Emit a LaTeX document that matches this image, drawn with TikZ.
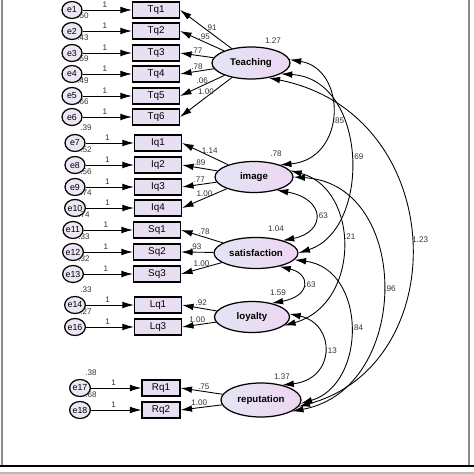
\documentclass[tikz,border=0pt]{standalone}
\usepackage{fontspec}
\setmainfont{Liberation Sans}
\usetikzlibrary{arrows.meta, positioning, shapes.geometric}

\definecolor{boxfill}{RGB}{232,224,242}
\definecolor{errfill}{RGB}{236,230,245}
\definecolor{latleft}{RGB}{226,229,244}
\definecolor{latright}{RGB}{238,214,242}
\definecolor{framegray}{RGB}{140,140,140}

\begin{document}
\begin{tikzpicture}[
    x=0.02cm, y=0.02cm,
    ind/.style={rectangle, draw, fill=boxfill, line width=0.7pt, minimum width=0.94cm, minimum height=0.32cm, inner sep=0pt, font=\fontsize{5.6}{6}\selectfont},
    err/.style={ellipse, draw, fill=errfill, line width=0.7pt, minimum width=0.4cm, minimum height=0.34cm, inner sep=0pt, font=\fontsize{5}{6}\selectfont},
    latent/.style={ellipse, draw, left color=latleft, right color=latright, line width=0.7pt, minimum width=1.56cm, minimum height=0.64cm, inner sep=0pt, font=\bfseries\fontsize{5.5}{6}\selectfont},
    lbl/.style={font=\fontsize{4.6}{5}\selectfont, text=black!80, inner sep=1pt},
    arrow/.style={-{Latex[length=6.5pt, width=3.8pt]}, line width=0.5pt},
    cov/.style={{Latex[length=6.5pt, width=3.8pt]}-{Latex[length=6.5pt, width=3.8pt]}, line width=0.5pt},
]
    \useasboundingbox (0,0) rectangle (474,474);

    % Frame
    \draw[framegray, line width=1.2pt] (2,474) -- (2,8);
    \draw[framegray, line width=1.2pt] (469,474) -- (469,8);
    \draw[black, line width=1.4pt] (0,8) -- (474,8);
    \draw[framegray!60, line width=0.8pt] (0,1) -- (474,1);

    % Latent variables
    \node[latent] (teach) at (251,411) {Teaching};
    \node[latent, minimum height=0.62cm] (image) at (254,297) {image};
    \node[latent, minimum width=1.68cm, minimum height=0.62cm] (satis) at (256,221) {satisfaction};
    \node[latent, minimum width=1.5cm, minimum height=0.62cm] (loyal) at (252,157) {loyalty};
    \node[latent, minimum width=1.6cm, minimum height=0.68cm] (reput) at (261,74) {reputation};

    % Indicators
    \node[ind] (Tq1) at (156,464) {Tq1};
    \node[ind] (Tq2) at (156,443) {Tq2};
    \node[ind] (Tq3) at (156,421) {Tq3};
    \node[ind] (Tq4) at (156,400) {Tq4};
    \node[ind] (Tq5) at (156,378) {Tq5};
    \node[ind] (Tq6) at (156,357) {Tq6};
    \node[ind] (Iq1) at (158,331) {Iq1};
    \node[ind] (Iq2) at (158,309) {Iq2};
    \node[ind] (Iq3) at (158,287) {Iq3};
    \node[ind] (Iq4) at (158,266) {Iq4};
    \node[ind] (Sq1) at (157,244) {Sq1};
    \node[ind] (Sq2) at (157,222) {Sq2};
    \node[ind] (Sq3) at (157,200) {Sq3};
    \node[ind] (Lq1) at (158,169) {Lq1};
    \node[ind] (Lq3) at (158,147) {Lq3};
    \node[ind, minimum width=0.76cm] (Rq1) at (161,86) {Rq1};
    \node[ind, minimum width=0.76cm] (Rq2) at (161,64) {Rq2};

    % Error terms
    \node[err] (e1) at (72,464) {e1};
    \node[err] (e2) at (72,443) {e2};
    \node[err] (e3) at (72,421) {e3};
    \node[err] (e4) at (72,400) {e4};
    \node[err] (e5) at (72,378) {e5};
    \node[err] (e6) at (72,357) {e6};
    \node[err] (e7) at (75,331) {e7};
    \node[err] (e8) at (75,309) {e8};
    \node[err] (e9) at (75,287) {e9};
    \node[err] (e10) at (75,266) {e10};
    \node[err] (e11) at (73,244) {e11};
    \node[err] (e12) at (73,222) {e12};
    \node[err] (e13) at (73,200) {e13};
    \node[err] (e14) at (75,169) {e14};
    \node[err] (e16) at (75,147) {e16};
    \node[err] (e17) at (80,86) {e17};
    \node[err] (e18) at (80,64) {e18};

    % Error variances
    \node[lbl] at ([shift={(11,15)}]e2.center) {.50};
    \node[lbl] at ([shift={(11,15)}]e3.center) {.43};
    \node[lbl] at ([shift={(11,15)}]e4.center) {.59};
    \node[lbl] at ([shift={(11,15)}]e5.center) {.49};
    \node[lbl] at ([shift={(11,15)}]e6.center) {.66};
    \node[lbl] at ([shift={(11,15)}]e7.center) {.39};
    \node[lbl] at ([shift={(11,15)}]e8.center) {.52};
    \node[lbl] at ([shift={(11,15)}]e9.center) {.56};
    \node[lbl] at ([shift={(11,15)}]e10.center) {.74};
    \node[lbl] at ([shift={(11,15)}]e11.center) {.74};
    \node[lbl] at ([shift={(11,15)}]e12.center) {.33};
    \node[lbl] at ([shift={(11,15)}]e13.center) {.32};
    \node[lbl] at ([shift={(11,15)}]e14.center) {.33};
    \node[lbl] at ([shift={(11,15)}]e16.center) {.27};
    \node[lbl] at ([shift={(11,15)}]e17.center) {.38};
    \node[lbl] at ([shift={(11,15)}]e18.center) {.68};

    % Latent variances
    \node[lbl] at ([shift={(22,22)}]teach.center) {1.27};
    \node[lbl] at ([shift={(22,23)}]image.center) {.78};
    \node[lbl] at ([shift={(20,24)}]satis.center) {1.04};
    \node[lbl] at ([shift={(26,24)}]loyal.center) {1.59};
    \node[lbl] at ([shift={(21,23)}]reput.center) {1.37};

    % Error arrows
    \draw[arrow] (e1) -- node[lbl, above, pos=0.45] {1} (Tq1);
    \draw[arrow] (e2) -- node[lbl, above, pos=0.45] {1} (Tq2);
    \draw[arrow] (e3) -- node[lbl, above, pos=0.45] {1} (Tq3);
    \draw[arrow] (e4) -- node[lbl, above, pos=0.45] {1} (Tq4);
    \draw[arrow] (e5) -- node[lbl, above, pos=0.45] {1} (Tq5);
    \draw[arrow] (e6) -- node[lbl, above, pos=0.45] {1} (Tq6);
    \draw[arrow] (e7) -- node[lbl, above, pos=0.45] {1} (Iq1);
    \draw[arrow] (e8) -- node[lbl, above, pos=0.45] {1} (Iq2);
    \draw[arrow] (e9) -- node[lbl, above, pos=0.45] {1} (Iq3);
    \draw[arrow] (e10) -- node[lbl, above, pos=0.45] {1} (Iq4);
    \draw[arrow] (e11) -- node[lbl, above, pos=0.45] {1} (Sq1);
    \draw[arrow] (e12) -- node[lbl, above, pos=0.45] {1} (Sq2);
    \draw[arrow] (e13) -- node[lbl, above, pos=0.45] {1} (Sq3);
    \draw[arrow] (e14) -- node[lbl, above, pos=0.45] {1} (Lq1);
    \draw[arrow] (e16) -- node[lbl, above, pos=0.45] {1} (Lq3);
    \draw[arrow] (e17) -- node[lbl, above, pos=0.45] {1} (Rq1);
    \draw[arrow] (e18) -- node[lbl, above, pos=0.45] {1} (Rq2);

    % Loadings
    \draw[arrow] (teach) -- node[lbl, above, pos=0.4] {.91} (Tq1.east);
    \draw[arrow] (teach) -- node[lbl, above, pos=0.45] {.95} (Tq2.east);
    \draw[arrow] (teach) -- node[lbl, above, pos=0.5] {.77} (Tq3.east);
    \draw[arrow] (teach) -- node[lbl, above, pos=0.5] {.78} (Tq4.east);
    \draw[arrow] (teach) -- node[lbl, above, pos=0.5] {.06} (Tq5.east);
    \draw[arrow] (teach) -- node[lbl, above, pos=0.5] {1.00} (Tq6.east);
    \draw[arrow] (image) -- node[lbl, above, pos=0.4] {1.14} (Iq1.east);
    \draw[arrow] (image) -- node[lbl, above, pos=0.5] {.89} (Iq2.east);
    \draw[arrow] (image) -- node[lbl, above, pos=0.5] {.77} (Iq3.east);
    \draw[arrow] (image) -- node[lbl, above, pos=0.5] {1.00} (Iq4.east);
    \draw[arrow] (satis) -- node[lbl, above, pos=0.45] {.78} (Sq1.east);
    \draw[arrow] (satis) -- node[lbl, above, pos=0.55] {.93} (Sq2.east);
    \draw[arrow] (satis) -- node[lbl, above, pos=0.5] {1.00} (Sq3.east);
    \draw[arrow] (loyal) -- node[lbl, above, pos=0.45] {.92} (Lq1.east);
    \draw[arrow] (loyal) -- node[lbl, above, pos=0.55] {1.00} (Lq3.east);
    \draw[arrow] (reput) -- node[lbl, above, pos=0.45] {.75} (Rq1.east);
    \draw[arrow] (reput) -- node[lbl, above, pos=0.55] {1.00} (Rq2.east);

    % Covariances
    \draw[cov] (teach.5) .. controls (347,405) and (347,315) .. node[lbl, right, pos=0.55] {.85} (image.25);
    \draw[cov] (teach.-20) .. controls (368,395) and (372,245) .. node[lbl, right, pos=0.5] {.69} (satis.0);
    \draw[cov] (teach.-40) .. controls (450,360) and (455,110) .. node[lbl, right, pos=0.5] {1.23} (reput.-10);
    \draw[cov] (image.-30) .. controls (326,275) and (326,242) .. node[lbl, right, pos=0.5] {.63} (satis.25);
    \draw[cov] (image.10) .. controls (360,285) and (361,170) .. node[lbl, right, pos=0.45] {.21} (loyal.-15);
    \draw[cov] (image.0) .. controls (412,290) and (412,85) .. node[lbl, right, pos=0.5] {.96} (reput.-20);
    \draw[cov] (satis.-30) .. controls (311,200) and (311,178) .. node[lbl, right, pos=0.5] {.63} (loyal.35);
    \draw[cov] (satis.-10) .. controls (367,205) and (367,90) .. node[lbl, right, pos=0.5] {.84} (reput.-5);
    \draw[cov] (loyal.5) .. controls (336,150) and (336,95) .. node[lbl, right, pos=0.5] {.13} (reput.35);
\end{tikzpicture}
\end{document}
